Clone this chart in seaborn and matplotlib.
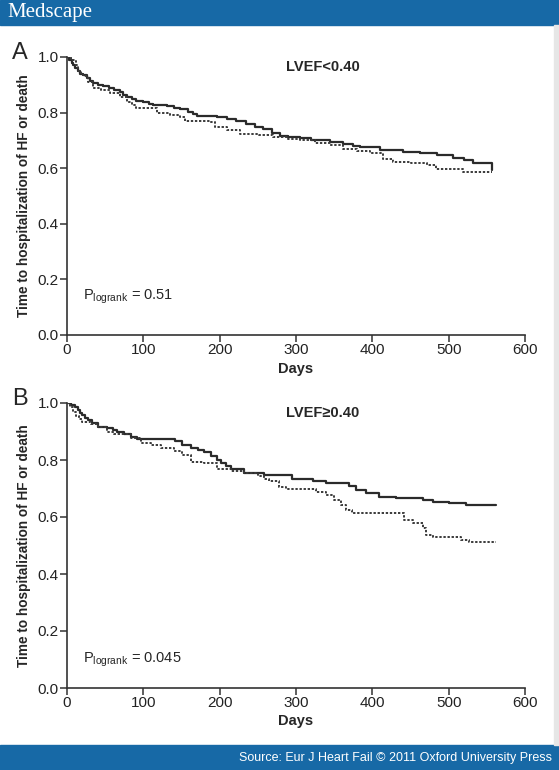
import numpy as np
import pandas as pd
import seaborn as sns
from matplotlib import pyplot as plt
from matplotlib.patches import Rectangle

# Kaplan-Meier step values (day, survival from that day on)
a_solid_days = [0, 3, 6, 8, 11, 14, 17, 21, 26, 30, 34, 40, 47, 55, 62, 69, 74, 78, 85, 91,
                100, 108, 113, 131, 140, 148, 158, 165, 170, 196, 209, 222, 235, 246, 257,
                268, 279, 290, 305, 320, 345, 362, 375, 384, 410, 440, 463, 485, 506, 520,
                532, 557]
a_solid_surv = [1.0, 0.99, 0.98, 0.97, 0.96, 0.95, 0.94, 0.935, 0.925, 0.915, 0.908, 0.90,
                0.895, 0.888, 0.882, 0.875, 0.862, 0.855, 0.848, 0.842, 0.838, 0.832, 0.828,
                0.824, 0.818, 0.812, 0.802, 0.795, 0.789, 0.783, 0.776, 0.768, 0.758, 0.75,
                0.74, 0.728, 0.716, 0.712, 0.708, 0.702, 0.694, 0.686, 0.68, 0.675, 0.665,
                0.658, 0.653, 0.646, 0.638, 0.63, 0.62, 0.592]

a_dot_days = [0, 5, 10, 12, 14, 18, 21, 27, 34, 45, 56, 69, 78, 85, 91, 118, 135, 148, 154,
              187, 194, 209, 226, 252, 270, 290, 305, 325, 345, 362, 380, 397, 414, 427,
              450, 471, 484, 519, 557]
a_dot_surv = [1.0, 0.99, 0.985, 0.97, 0.95, 0.94, 0.93, 0.91, 0.89, 0.88, 0.872, 0.855,
              0.837, 0.826, 0.816, 0.798, 0.79, 0.783, 0.77, 0.765, 0.748, 0.736, 0.722,
              0.718, 0.711, 0.705, 0.70, 0.692, 0.683, 0.668, 0.662, 0.656, 0.632, 0.624,
              0.618, 0.611, 0.596, 0.588, 0.588]

b_solid_days = [0, 5, 10, 14, 17, 20, 24, 27, 33, 40, 53, 60, 66, 75, 84, 92, 141, 150, 163,
                172, 180, 189, 196, 202, 208, 215, 232, 258, 295, 322, 339, 370, 379, 392,
                409, 431, 466, 479, 501, 523, 562]
b_solid_surv = [1.0, 0.993, 0.985, 0.975, 0.965, 0.958, 0.948, 0.94, 0.93, 0.917, 0.912,
                0.905, 0.898, 0.89, 0.882, 0.874, 0.866, 0.853, 0.842, 0.835, 0.829, 0.815,
                0.80, 0.789, 0.778, 0.768, 0.754, 0.747, 0.733, 0.728, 0.719, 0.709, 0.695,
                0.684, 0.671, 0.668, 0.66, 0.654, 0.65, 0.642, 0.642]

b_dot_days = [0, 4, 8, 12, 16, 20, 31, 40, 53, 62, 84, 97, 110, 123, 140, 150, 163, 180,
              197, 215, 232, 250, 258, 265, 278, 287, 326, 339, 350, 359, 365, 374, 442,
              453, 466, 470, 479, 516, 527, 562]
b_dot_surv = [1.0, 0.985, 0.97, 0.955, 0.945, 0.935, 0.925, 0.915, 0.90, 0.891, 0.878, 0.86,
              0.852, 0.842, 0.83, 0.818, 0.794, 0.789, 0.768, 0.762, 0.755, 0.745, 0.735,
              0.725, 0.706, 0.698, 0.689, 0.677, 0.66, 0.642, 0.625, 0.615, 0.589, 0.578,
              0.561, 0.537, 0.53, 0.519, 0.512, 0.512]

panel_letters = ['A', 'B']
panel_titles = ['LVEF<0.40', 'LVEF≥0.40']
p_texts = ['0.51', '0.045']
x_ticks = [0, 100, 200, 300, 400, 500, 600]
y_ticks = [0.0, 0.2, 0.4, 0.6, 0.8, 1.0]

curves = {
    'A': [(a_solid_days, a_solid_surv, 'solid'), (a_dot_days, a_dot_surv, 'dotted')],
    'B': [(b_solid_days, b_solid_surv, 'solid'), (b_dot_days, b_dot_surv, 'dotted')],
}

sns.set_style('ticks')
plt.rcParams['font.family'] = ['Liberation Sans', 'DejaVu Sans']

W, H = 559, 770
fig = plt.figure(figsize=(W / 100, H / 100), dpi=100)
blue = '#1769a6'


def fx(px):
    return px / W


def fy(py):
    return 1 - py / H


# header / footer bars
fig.patches.append(Rectangle((0, fy(25)), 1, 25 / H, transform=fig.transFigure,
                             color=blue, zorder=0))
fig.patches.append(Rectangle((0, 0), 1, 25 / H, transform=fig.transFigure,
                             color=blue, zorder=0))
fig.patches.append(Rectangle((fx(554), fy(745)), 5 / W, 720 / H, transform=fig.transFigure,
                             color='#e6e6e6', zorder=0))
fig.text(fx(7), fy(12.5), 'Medscape', color='white', fontsize=15,
         family='Liberation Serif', va='center', ha='left')
fig.text(fx(552), fy(758), 'Source: Eur J Heart Fail © 2011 Oxford University Press',
         color='white', fontsize=9, va='center', ha='right')

# axes boxes in pixels: (top of 1.0, bottom at 0.0)
boxes = [(57, 335), (403, 688)]
line_col = '#2b2b2b'

for i, key in enumerate(panel_letters):
    top, bot = boxes[i]
    ax = fig.add_axes([fx(67), fy(bot), fx(525) - fx(67), (bot - top) / H])
    rows = []
    for days, surv, kind in curves[key]:
        rows.append(pd.DataFrame({'day': days, 'surv': surv, 'group': kind}))
    df = pd.concat(rows, ignore_index=True)
    sns.lineplot(data=df[df.group == 'solid'], x='day', y='surv', ax=ax, estimator=None,
                 sort=False, drawstyle='steps-post', color=line_col, linewidth=1.6)
    sns.lineplot(data=df[df.group == 'dotted'], x='day', y='surv', ax=ax, estimator=None,
                 sort=False, drawstyle='steps-post', color='#3a3a3a', linewidth=1.4,
                 linestyle=(0, (1.2, 0.9)))
    ax.set_xlim(0, 600)
    ax.set_ylim(0, 1.0)
    ax.set_xticks(x_ticks)
    ax.set_yticks(y_ticks)
    ax.set_yticklabels([f'{v:.1f}' for v in y_ticks])
    ax.tick_params(direction='out', length=5, width=1.1, color='#333333',
                   labelsize=11, pad=1, labelcolor='#222222')
    for side in ['top', 'right']:
        ax.spines[side].set_visible(False)
    for side in ['left', 'bottom']:
        ax.spines[side].set_linewidth(1.2)
        ax.spines[side].set_color('#333333')
    ax.set_xlabel('Days', fontsize=10.5, fontweight='bold', labelpad=3)
    ax.set_ylabel('Time to hospitalization of HF or death', fontsize=9.8,
                  fontweight='bold', labelpad=5)
    ax.patch.set_alpha(0)
    ax.text(335, 0.965, panel_titles[i], fontsize=10.5, fontweight='bold',
            ha='center', va='center')
    ax.text(21, 0.137 if i == 0 else 0.098,
            r'P$_{\mathregular{logrank}}$ = ' + p_texts[i], fontsize=10.5,
            ha='left', va='center')
    fig.text(fx(20), fy(top - 4), key, fontsize=17, ha='center', va='center')

fig.savefig('out.png', dpi=100)
